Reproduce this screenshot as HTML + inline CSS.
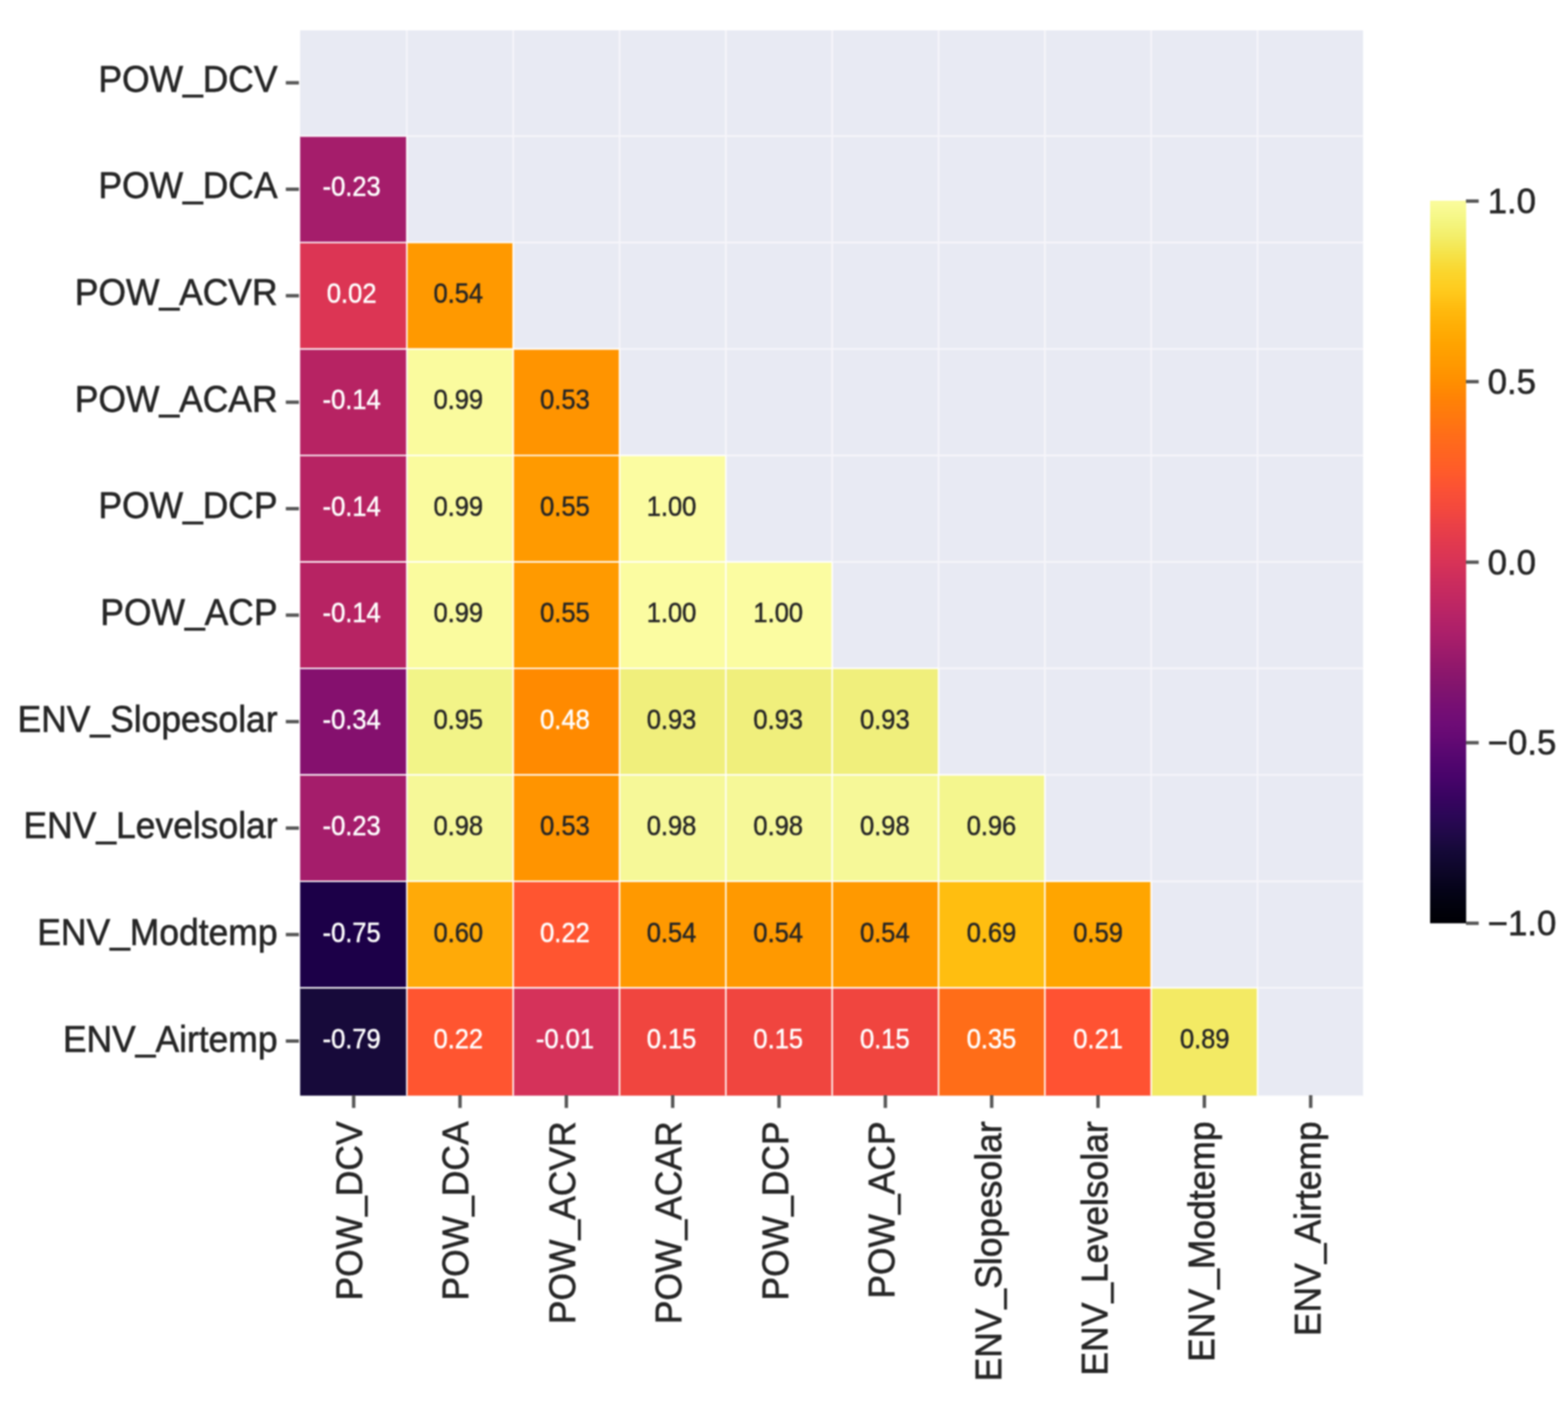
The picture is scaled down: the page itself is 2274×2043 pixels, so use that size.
<!DOCTYPE html><html><head><meta charset="utf-8"><title>Correlation heatmap</title><style>
html,body{margin:0;padding:0;background:#fff;}body{width:2274px;height:2043px;overflow:hidden;}
svg{display:block;filter:blur(0.8px);}text{font-family:"Liberation Sans",Arial,Helvetica,sans-serif;}
.lb{font-size:51.4px;fill:#262626;stroke:#262626;stroke-width:0.8px;}.an{font-size:37px;text-anchor:middle;stroke-width:0.6px;}.cb{font-size:50.5px;fill:#262626;stroke:#262626;stroke-width:0.8px;}
.tk{stroke:#585858;stroke-width:5;}
</style></head><body>
<svg width="2274" height="2043" viewBox="0 0 2274 2043">
<defs><linearGradient id="cbg" x1="0" y1="1" x2="0" y2="0">
<stop offset="0.000" stop-color="#000004"/>
<stop offset="0.025" stop-color="#02020e"/>
<stop offset="0.050" stop-color="#06041b"/>
<stop offset="0.075" stop-color="#0e072a"/>
<stop offset="0.100" stop-color="#150938"/>
<stop offset="0.125" stop-color="#210949"/>
<stop offset="0.150" stop-color="#2c0757"/>
<stop offset="0.175" stop-color="#390461"/>
<stop offset="0.200" stop-color="#47046a"/>
<stop offset="0.225" stop-color="#53066f"/>
<stop offset="0.250" stop-color="#610973"/>
<stop offset="0.275" stop-color="#6e0c76"/>
<stop offset="0.300" stop-color="#770f74"/>
<stop offset="0.325" stop-color="#81146e"/>
<stop offset="0.350" stop-color="#8e176c"/>
<stop offset="0.375" stop-color="#9d1b6b"/>
<stop offset="0.400" stop-color="#ab1f6a"/>
<stop offset="0.425" stop-color="#b62367"/>
<stop offset="0.450" stop-color="#c22862"/>
<stop offset="0.475" stop-color="#cc2d5d"/>
<stop offset="0.500" stop-color="#d83357"/>
<stop offset="0.525" stop-color="#e1394f"/>
<stop offset="0.550" stop-color="#ea4047"/>
<stop offset="0.575" stop-color="#f4493d"/>
<stop offset="0.600" stop-color="#fb5135"/>
<stop offset="0.625" stop-color="#ff5b2a"/>
<stop offset="0.650" stop-color="#ff6421"/>
<stop offset="0.675" stop-color="#ff6d19"/>
<stop offset="0.700" stop-color="#ff780f"/>
<stop offset="0.725" stop-color="#ff8206"/>
<stop offset="0.750" stop-color="#ff8f00"/>
<stop offset="0.775" stop-color="#ff9a00"/>
<stop offset="0.800" stop-color="#ffa300"/>
<stop offset="0.825" stop-color="#ffae05"/>
<stop offset="0.850" stop-color="#ffba0e"/>
<stop offset="0.875" stop-color="#ffca1d"/>
<stop offset="0.900" stop-color="#fbd52c"/>
<stop offset="0.925" stop-color="#f6e247"/>
<stop offset="0.950" stop-color="#f3ee69"/>
<stop offset="0.975" stop-color="#f5f785"/>
<stop offset="1.000" stop-color="#fbfc9d"/>
</linearGradient></defs>
<rect x="435.30" y="44.00" width="1541.50" height="1544.60" fill="#e8eaf3"/>
<line x1="590.02" y1="44.00" x2="590.02" y2="1588.60" stroke="#f6f5fa" stroke-width="2.6"/>
<line x1="435.30" y1="197.23" x2="1976.80" y2="197.23" stroke="#f6f5fa" stroke-width="2.6"/>
<line x1="744.24" y1="44.00" x2="744.24" y2="1588.60" stroke="#f6f5fa" stroke-width="2.6"/>
<line x1="435.30" y1="351.62" x2="1976.80" y2="351.62" stroke="#f6f5fa" stroke-width="2.6"/>
<line x1="898.45" y1="44.00" x2="898.45" y2="1588.60" stroke="#f6f5fa" stroke-width="2.6"/>
<line x1="435.30" y1="506.00" x2="1976.80" y2="506.00" stroke="#f6f5fa" stroke-width="2.6"/>
<line x1="1052.67" y1="44.00" x2="1052.67" y2="1588.60" stroke="#f6f5fa" stroke-width="2.6"/>
<line x1="435.30" y1="660.38" x2="1976.80" y2="660.38" stroke="#f6f5fa" stroke-width="2.6"/>
<line x1="1206.88" y1="44.00" x2="1206.88" y2="1588.60" stroke="#f6f5fa" stroke-width="2.6"/>
<line x1="435.30" y1="814.77" x2="1976.80" y2="814.77" stroke="#f6f5fa" stroke-width="2.6"/>
<line x1="1361.09" y1="44.00" x2="1361.09" y2="1588.60" stroke="#f6f5fa" stroke-width="2.6"/>
<line x1="435.30" y1="969.15" x2="1976.80" y2="969.15" stroke="#f6f5fa" stroke-width="2.6"/>
<line x1="1515.31" y1="44.00" x2="1515.31" y2="1588.60" stroke="#f6f5fa" stroke-width="2.6"/>
<line x1="435.30" y1="1123.53" x2="1976.80" y2="1123.53" stroke="#f6f5fa" stroke-width="2.6"/>
<line x1="1669.52" y1="44.00" x2="1669.52" y2="1588.60" stroke="#f6f5fa" stroke-width="2.6"/>
<line x1="435.30" y1="1277.91" x2="1976.80" y2="1277.91" stroke="#f6f5fa" stroke-width="2.6"/>
<line x1="1823.74" y1="44.00" x2="1823.74" y2="1588.60" stroke="#f6f5fa" stroke-width="2.6"/>
<line x1="435.30" y1="1432.30" x2="1976.80" y2="1432.30" stroke="#f6f5fa" stroke-width="2.6"/>
<rect x="435.30" y="197.23" width="154.72" height="154.38" fill="#a51d6b"/>
<rect x="435.30" y="351.62" width="154.72" height="154.38" fill="#dc3554"/>
<rect x="590.02" y="351.62" width="154.21" height="154.38" fill="#ff9900"/>
<rect x="435.30" y="506.00" width="154.72" height="154.38" fill="#b72363"/>
<rect x="590.02" y="506.00" width="154.21" height="154.38" fill="#fafb9e"/>
<rect x="744.24" y="506.00" width="154.21" height="154.38" fill="#ff9400"/>
<rect x="435.30" y="660.38" width="154.72" height="154.38" fill="#b72363"/>
<rect x="590.02" y="660.38" width="154.21" height="154.38" fill="#fafb9e"/>
<rect x="744.24" y="660.38" width="154.21" height="154.38" fill="#ff9a00"/>
<rect x="898.45" y="660.38" width="154.21" height="154.38" fill="#fbfca1"/>
<rect x="435.30" y="814.77" width="154.72" height="154.38" fill="#b72363"/>
<rect x="590.02" y="814.77" width="154.21" height="154.38" fill="#fafb9e"/>
<rect x="744.24" y="814.77" width="154.21" height="154.38" fill="#ff9a00"/>
<rect x="898.45" y="814.77" width="154.21" height="154.38" fill="#fbfca1"/>
<rect x="1052.67" y="814.77" width="154.21" height="154.38" fill="#fbfca1"/>
<rect x="435.30" y="969.15" width="154.72" height="154.38" fill="#85106e"/>
<rect x="590.02" y="969.15" width="154.21" height="154.38" fill="#f2f488"/>
<rect x="744.24" y="969.15" width="154.21" height="154.38" fill="#ff8a00"/>
<rect x="898.45" y="969.15" width="154.21" height="154.38" fill="#f0ef7c"/>
<rect x="1052.67" y="969.15" width="154.21" height="154.38" fill="#f0ef7c"/>
<rect x="1206.88" y="969.15" width="154.21" height="154.38" fill="#f0ef7c"/>
<rect x="435.30" y="1123.53" width="154.72" height="154.38" fill="#a51d6b"/>
<rect x="590.02" y="1123.53" width="154.21" height="154.38" fill="#f6f898"/>
<rect x="744.24" y="1123.53" width="154.21" height="154.38" fill="#ff9400"/>
<rect x="898.45" y="1123.53" width="154.21" height="154.38" fill="#f6f898"/>
<rect x="1052.67" y="1123.53" width="154.21" height="154.38" fill="#f6f898"/>
<rect x="1206.88" y="1123.53" width="154.21" height="154.38" fill="#f6f898"/>
<rect x="1361.09" y="1123.53" width="154.21" height="154.38" fill="#f4f68e"/>
<rect x="435.30" y="1277.91" width="154.72" height="154.38" fill="#1c0048"/>
<rect x="590.02" y="1277.91" width="154.21" height="154.38" fill="#ffaa08"/>
<rect x="744.24" y="1277.91" width="154.21" height="154.38" fill="#ff5530"/>
<rect x="898.45" y="1277.91" width="154.21" height="154.38" fill="#ff9900"/>
<rect x="1052.67" y="1277.91" width="154.21" height="154.38" fill="#ff9900"/>
<rect x="1206.88" y="1277.91" width="154.21" height="154.38" fill="#ff9900"/>
<rect x="1361.09" y="1277.91" width="154.21" height="154.38" fill="#ffbe10"/>
<rect x="1515.31" y="1277.91" width="154.21" height="154.38" fill="#ffa500"/>
<rect x="435.30" y="1432.30" width="154.72" height="156.30" fill="#170a3a"/>
<rect x="590.02" y="1432.30" width="154.21" height="156.30" fill="#ff5530"/>
<rect x="744.24" y="1432.30" width="154.21" height="156.30" fill="#d5325a"/>
<rect x="898.45" y="1432.30" width="154.21" height="156.30" fill="#f0453f"/>
<rect x="1052.67" y="1432.30" width="154.21" height="156.30" fill="#f0453f"/>
<rect x="1206.88" y="1432.30" width="154.21" height="156.30" fill="#f0453f"/>
<rect x="1361.09" y="1432.30" width="154.21" height="156.30" fill="#ff6d18"/>
<rect x="1515.31" y="1432.30" width="154.21" height="156.30" fill="#ff5232"/>
<rect x="1669.52" y="1432.30" width="154.21" height="156.30" fill="#f3ea64"/>
<line x1="590.02" y1="197.23" x2="590.02" y2="1588.60" stroke="#ffffff" stroke-opacity="0.9" stroke-width="2.4"/>
<line x1="435.30" y1="197.23" x2="590.02" y2="197.23" stroke="#ffffff" stroke-opacity="0.9" stroke-width="2.4"/>
<line x1="744.24" y1="351.62" x2="744.24" y2="1588.60" stroke="#ffffff" stroke-opacity="0.9" stroke-width="2.4"/>
<line x1="435.30" y1="351.62" x2="744.24" y2="351.62" stroke="#ffffff" stroke-opacity="0.9" stroke-width="2.4"/>
<line x1="898.45" y1="506.00" x2="898.45" y2="1588.60" stroke="#ffffff" stroke-opacity="0.9" stroke-width="2.4"/>
<line x1="435.30" y1="506.00" x2="898.45" y2="506.00" stroke="#ffffff" stroke-opacity="0.9" stroke-width="2.4"/>
<line x1="1052.67" y1="660.38" x2="1052.67" y2="1588.60" stroke="#ffffff" stroke-opacity="0.9" stroke-width="2.4"/>
<line x1="435.30" y1="660.38" x2="1052.67" y2="660.38" stroke="#ffffff" stroke-opacity="0.9" stroke-width="2.4"/>
<line x1="1206.88" y1="814.77" x2="1206.88" y2="1588.60" stroke="#ffffff" stroke-opacity="0.9" stroke-width="2.4"/>
<line x1="435.30" y1="814.77" x2="1206.88" y2="814.77" stroke="#ffffff" stroke-opacity="0.9" stroke-width="2.4"/>
<line x1="1361.09" y1="969.15" x2="1361.09" y2="1588.60" stroke="#ffffff" stroke-opacity="0.9" stroke-width="2.4"/>
<line x1="435.30" y1="969.15" x2="1361.09" y2="969.15" stroke="#ffffff" stroke-opacity="0.9" stroke-width="2.4"/>
<line x1="1515.31" y1="1123.53" x2="1515.31" y2="1588.60" stroke="#ffffff" stroke-opacity="0.9" stroke-width="2.4"/>
<line x1="435.30" y1="1123.53" x2="1515.31" y2="1123.53" stroke="#ffffff" stroke-opacity="0.9" stroke-width="2.4"/>
<line x1="1669.52" y1="1277.91" x2="1669.52" y2="1588.60" stroke="#ffffff" stroke-opacity="0.9" stroke-width="2.4"/>
<line x1="435.30" y1="1277.91" x2="1669.52" y2="1277.91" stroke="#ffffff" stroke-opacity="0.9" stroke-width="2.4"/>
<line x1="1823.74" y1="1432.30" x2="1823.74" y2="1588.60" stroke="#ffffff" stroke-opacity="0.9" stroke-width="2.4"/>
<line x1="435.30" y1="1432.30" x2="1823.74" y2="1432.30" stroke="#ffffff" stroke-opacity="0.9" stroke-width="2.4"/>
<text class="an" transform="translate(510.00,284.34) scale(1,1.08)" fill="#ffffff" stroke="#ffffff">-0.23</text>
<text class="an" transform="translate(510.00,438.85) scale(1,1.08)" fill="#ffffff" stroke="#ffffff">0.02</text>
<text class="an" transform="translate(664.65,438.85) scale(1,1.08)" fill="#262626" stroke="#262626">0.54</text>
<text class="an" transform="translate(510.00,593.37) scale(1,1.08)" fill="#ffffff" stroke="#ffffff">-0.14</text>
<text class="an" transform="translate(664.65,593.37) scale(1,1.08)" fill="#262626" stroke="#262626">0.99</text>
<text class="an" transform="translate(819.30,593.37) scale(1,1.08)" fill="#262626" stroke="#262626">0.53</text>
<text class="an" transform="translate(510.00,747.88) scale(1,1.08)" fill="#ffffff" stroke="#ffffff">-0.14</text>
<text class="an" transform="translate(664.65,747.88) scale(1,1.08)" fill="#262626" stroke="#262626">0.99</text>
<text class="an" transform="translate(819.30,747.88) scale(1,1.08)" fill="#262626" stroke="#262626">0.55</text>
<text class="an" transform="translate(973.95,747.88) scale(1,1.08)" fill="#262626" stroke="#262626">1.00</text>
<text class="an" transform="translate(510.00,902.40) scale(1,1.08)" fill="#ffffff" stroke="#ffffff">-0.14</text>
<text class="an" transform="translate(664.65,902.40) scale(1,1.08)" fill="#262626" stroke="#262626">0.99</text>
<text class="an" transform="translate(819.30,902.40) scale(1,1.08)" fill="#262626" stroke="#262626">0.55</text>
<text class="an" transform="translate(973.95,902.40) scale(1,1.08)" fill="#262626" stroke="#262626">1.00</text>
<text class="an" transform="translate(1128.60,902.40) scale(1,1.08)" fill="#262626" stroke="#262626">1.00</text>
<text class="an" transform="translate(510.00,1056.92) scale(1,1.08)" fill="#ffffff" stroke="#ffffff">-0.34</text>
<text class="an" transform="translate(664.65,1056.92) scale(1,1.08)" fill="#262626" stroke="#262626">0.95</text>
<text class="an" transform="translate(819.30,1056.92) scale(1,1.08)" fill="#ffffff" stroke="#ffffff">0.48</text>
<text class="an" transform="translate(973.95,1056.92) scale(1,1.08)" fill="#262626" stroke="#262626">0.93</text>
<text class="an" transform="translate(1128.60,1056.92) scale(1,1.08)" fill="#262626" stroke="#262626">0.93</text>
<text class="an" transform="translate(1283.25,1056.92) scale(1,1.08)" fill="#262626" stroke="#262626">0.93</text>
<text class="an" transform="translate(510.00,1211.43) scale(1,1.08)" fill="#ffffff" stroke="#ffffff">-0.23</text>
<text class="an" transform="translate(664.65,1211.43) scale(1,1.08)" fill="#262626" stroke="#262626">0.98</text>
<text class="an" transform="translate(819.30,1211.43) scale(1,1.08)" fill="#262626" stroke="#262626">0.53</text>
<text class="an" transform="translate(973.95,1211.43) scale(1,1.08)" fill="#262626" stroke="#262626">0.98</text>
<text class="an" transform="translate(1128.60,1211.43) scale(1,1.08)" fill="#262626" stroke="#262626">0.98</text>
<text class="an" transform="translate(1283.25,1211.43) scale(1,1.08)" fill="#262626" stroke="#262626">0.98</text>
<text class="an" transform="translate(1437.90,1211.43) scale(1,1.08)" fill="#262626" stroke="#262626">0.96</text>
<text class="an" transform="translate(510.00,1365.95) scale(1,1.08)" fill="#ffffff" stroke="#ffffff">-0.75</text>
<text class="an" transform="translate(664.65,1365.95) scale(1,1.08)" fill="#262626" stroke="#262626">0.60</text>
<text class="an" transform="translate(819.30,1365.95) scale(1,1.08)" fill="#ffffff" stroke="#ffffff">0.22</text>
<text class="an" transform="translate(973.95,1365.95) scale(1,1.08)" fill="#262626" stroke="#262626">0.54</text>
<text class="an" transform="translate(1128.60,1365.95) scale(1,1.08)" fill="#262626" stroke="#262626">0.54</text>
<text class="an" transform="translate(1283.25,1365.95) scale(1,1.08)" fill="#262626" stroke="#262626">0.54</text>
<text class="an" transform="translate(1437.90,1365.95) scale(1,1.08)" fill="#262626" stroke="#262626">0.69</text>
<text class="an" transform="translate(1592.55,1365.95) scale(1,1.08)" fill="#262626" stroke="#262626">0.59</text>
<text class="an" transform="translate(510.00,1520.46) scale(1,1.08)" fill="#ffffff" stroke="#ffffff">-0.79</text>
<text class="an" transform="translate(664.65,1520.46) scale(1,1.08)" fill="#ffffff" stroke="#ffffff">0.22</text>
<text class="an" transform="translate(819.30,1520.46) scale(1,1.08)" fill="#ffffff" stroke="#ffffff">-0.01</text>
<text class="an" transform="translate(973.95,1520.46) scale(1,1.08)" fill="#ffffff" stroke="#ffffff">0.15</text>
<text class="an" transform="translate(1128.60,1520.46) scale(1,1.08)" fill="#ffffff" stroke="#ffffff">0.15</text>
<text class="an" transform="translate(1283.25,1520.46) scale(1,1.08)" fill="#ffffff" stroke="#ffffff">0.15</text>
<text class="an" transform="translate(1437.90,1520.46) scale(1,1.08)" fill="#ffffff" stroke="#ffffff">0.35</text>
<text class="an" transform="translate(1592.55,1520.46) scale(1,1.08)" fill="#ffffff" stroke="#ffffff">0.21</text>
<text class="an" transform="translate(1747.20,1520.46) scale(1,1.08)" fill="#262626" stroke="#262626">0.89</text>
<line class="tk" x1="414.5" y1="120.04" x2="433.5" y2="120.04"/>
<text class="lb" transform="translate(402.5,132.60) scale(1,1.034)" text-anchor="end">POW<tspan dy="-2.7">_</tspan><tspan dy="2.7">DCV</tspan></text>
<line class="tk" x1="414.5" y1="274.42" x2="433.5" y2="274.42"/>
<text class="lb" transform="translate(402.5,287.29) scale(1,1.034)" text-anchor="end">POW<tspan dy="-2.7">_</tspan><tspan dy="2.7">DCA</tspan></text>
<line class="tk" x1="414.5" y1="428.81" x2="433.5" y2="428.81"/>
<text class="lb" transform="translate(402.5,441.98) scale(1,1.034)" text-anchor="end">POW<tspan dy="-2.7">_</tspan><tspan dy="2.7">ACVR</tspan></text>
<line class="tk" x1="414.5" y1="583.19" x2="433.5" y2="583.19"/>
<text class="lb" transform="translate(402.5,596.67) scale(1,1.034)" text-anchor="end">POW<tspan dy="-2.7">_</tspan><tspan dy="2.7">ACAR</tspan></text>
<line class="tk" x1="414.5" y1="737.57" x2="433.5" y2="737.57"/>
<text class="lb" transform="translate(402.5,751.36) scale(1,1.034)" text-anchor="end">POW<tspan dy="-2.7">_</tspan><tspan dy="2.7">DCP</tspan></text>
<line class="tk" x1="414.5" y1="891.96" x2="433.5" y2="891.96"/>
<text class="lb" transform="translate(402.5,906.05) scale(1,1.034)" text-anchor="end">POW<tspan dy="-2.7">_</tspan><tspan dy="2.7">ACP</tspan></text>
<line class="tk" x1="414.5" y1="1046.34" x2="433.5" y2="1046.34"/>
<text class="lb" transform="translate(402.5,1060.74) scale(1,1.034)" text-anchor="end">ENV<tspan dy="-2.7">_</tspan><tspan dy="2.7">Slopesolar</tspan></text>
<line class="tk" x1="414.5" y1="1200.72" x2="433.5" y2="1200.72"/>
<text class="lb" transform="translate(402.5,1215.43) scale(1,1.034)" text-anchor="end">ENV<tspan dy="-2.7">_</tspan><tspan dy="2.7">Levelsolar</tspan></text>
<line class="tk" x1="414.5" y1="1355.11" x2="433.5" y2="1355.11"/>
<text class="lb" transform="translate(402.5,1370.12) scale(1,1.034)" text-anchor="end">ENV<tspan dy="-2.7">_</tspan><tspan dy="2.7">Modtemp</tspan></text>
<line class="tk" x1="414.5" y1="1509.49" x2="433.5" y2="1509.49"/>
<text class="lb" transform="translate(402.5,1524.81) scale(1,1.034)" text-anchor="end">ENV<tspan dy="-2.7">_</tspan><tspan dy="2.7">Airtemp</tspan></text>
<line class="tk" x1="512.92" y1="1588" x2="512.92" y2="1606.5"/>
<text class="lb" transform="translate(525.00,1626) rotate(-90) scale(1,1.034)" text-anchor="end">POW<tspan dy="-2.7">_</tspan><tspan dy="2.7">DCV</tspan></text>
<line class="tk" x1="667.13" y1="1588" x2="667.13" y2="1606.5"/>
<text class="lb" transform="translate(679.49,1626) rotate(-90) scale(1,1.034)" text-anchor="end">POW<tspan dy="-2.7">_</tspan><tspan dy="2.7">DCA</tspan></text>
<line class="tk" x1="821.35" y1="1588" x2="821.35" y2="1606.5"/>
<text class="lb" transform="translate(833.98,1626) rotate(-90) scale(1,1.034)" text-anchor="end">POW<tspan dy="-2.7">_</tspan><tspan dy="2.7">ACVR</tspan></text>
<line class="tk" x1="975.56" y1="1588" x2="975.56" y2="1606.5"/>
<text class="lb" transform="translate(988.47,1626) rotate(-90) scale(1,1.034)" text-anchor="end">POW<tspan dy="-2.7">_</tspan><tspan dy="2.7">ACAR</tspan></text>
<line class="tk" x1="1129.77" y1="1588" x2="1129.77" y2="1606.5"/>
<text class="lb" transform="translate(1142.96,1626) rotate(-90) scale(1,1.034)" text-anchor="end">POW<tspan dy="-2.7">_</tspan><tspan dy="2.7">DCP</tspan></text>
<line class="tk" x1="1283.99" y1="1588" x2="1283.99" y2="1606.5"/>
<text class="lb" transform="translate(1297.45,1626) rotate(-90) scale(1,1.034)" text-anchor="end">POW<tspan dy="-2.7">_</tspan><tspan dy="2.7">ACP</tspan></text>
<line class="tk" x1="1438.20" y1="1588" x2="1438.20" y2="1606.5"/>
<text class="lb" transform="translate(1451.94,1626) rotate(-90) scale(1,1.034)" text-anchor="end">ENV<tspan dy="-2.7">_</tspan><tspan dy="2.7">Slopesolar</tspan></text>
<line class="tk" x1="1592.41" y1="1588" x2="1592.41" y2="1606.5"/>
<text class="lb" transform="translate(1606.43,1626) rotate(-90) scale(1,1.034)" text-anchor="end">ENV<tspan dy="-2.7">_</tspan><tspan dy="2.7">Levelsolar</tspan></text>
<line class="tk" x1="1746.63" y1="1588" x2="1746.63" y2="1606.5"/>
<text class="lb" transform="translate(1760.92,1626) rotate(-90) scale(1,1.034)" text-anchor="end">ENV<tspan dy="-2.7">_</tspan><tspan dy="2.7">Modtemp</tspan></text>
<line class="tk" x1="1900.84" y1="1588" x2="1900.84" y2="1606.5"/>
<text class="lb" transform="translate(1915.41,1626) rotate(-90) scale(1,1.034)" text-anchor="end">ENV<tspan dy="-2.7">_</tspan><tspan dy="2.7">Airtemp</tspan></text>
<rect x="2074" y="291" width="52.3" height="1047.7" fill="url(#cbg)"/>
<line class="tk" x1="2126" y1="291.60" x2="2144.5" y2="291.60"/>
<text class="cb" x="2157.5" y="309.10">1.0</text>
<line class="tk" x1="2126" y1="553.38" x2="2144.5" y2="553.38"/>
<text class="cb" x="2157.5" y="570.88">0.5</text>
<line class="tk" x1="2126" y1="815.15" x2="2144.5" y2="815.15"/>
<text class="cb" x="2157.5" y="832.65">0.0</text>
<line class="tk" x1="2126" y1="1076.92" x2="2144.5" y2="1076.92"/>
<text class="cb" x="2157.5" y="1094.42">−0.5</text>
<line class="tk" x1="2126" y1="1338.70" x2="2144.5" y2="1338.70"/>
<text class="cb" x="2157.5" y="1356.20">−1.0</text>
</svg></body></html>
